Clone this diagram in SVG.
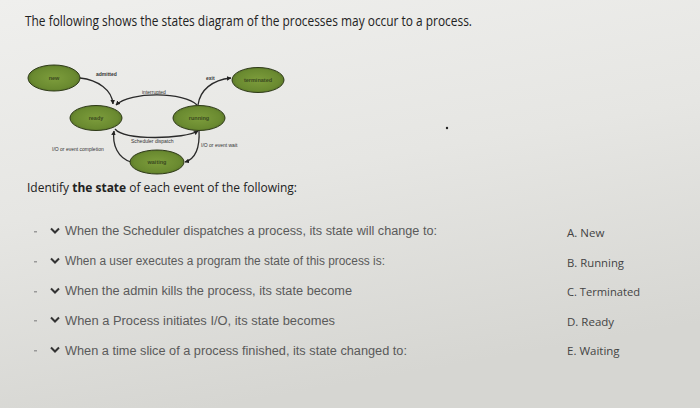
<svg xmlns="http://www.w3.org/2000/svg" width="700" height="408" viewBox="0 0 700 408">
<defs>
<linearGradient id="bg" x1="0" y1="0" x2="0.3" y2="1">
<stop offset="0" stop-color="#efefed"/>
<stop offset="0.5" stop-color="#e6e6e3"/>
<stop offset="1" stop-color="#d6d6d2"/>
</linearGradient>
<radialGradient id="g" cx="0.5" cy="0.5" r="0.6">
<stop offset="0" stop-color="#7d9d3c"/>
<stop offset="0.7" stop-color="#6a8a30"/>
<stop offset="1" stop-color="#4d6622"/>
</radialGradient>
<marker id="ah" viewBox="0 0 10 10" refX="9" refY="5" markerWidth="3.5" markerHeight="3.5" orient="auto">
<path d="M0,0 L10,5 L0,10 z" fill="#222"/>
</marker>
<style>
.st{fill:url(#g);stroke:#2e3a18;stroke-width:1}
.nt{font-family:"Liberation Sans",Arial,sans-serif;font-size:5.5px;fill:#3a4a20;text-anchor:middle;font-weight:bold}
.c{fill:none;stroke:#2a2a2a;stroke-width:1.3;marker-end:url(#ah)}
.el{font-family:"Liberation Sans",Arial,sans-serif;font-size:5px;fill:#333}
.hd{font-family:"Open Sans","Noto Sans",sans-serif;fill:#222}
.q{font-family:"Liberation Sans",Arial,sans-serif;font-size:12.5px;fill:#5a5a5a}
.a{font-family:"Open Sans","Noto Sans",sans-serif;font-size:11.5px;fill:#444}
.ck{fill:none;stroke:#333;stroke-width:2}
.ds{fill:#999}
</style>
</defs>
<rect width="700" height="408" fill="url(#bg)"/>

<text class="hd" x="25" y="26" font-size="14" textLength="447" lengthAdjust="spacingAndGlyphs">The following shows the states diagram of the processes may occur to a process.</text>

<g id="connectors">
<path class="c" d="M80,78 C98,80 112,90 113,104"/>
<path class="c" d="M198,105 C200,90 212,80 231,78"/>
<path class="c" d="M197,105 C185,92 130,91 116,105"/>
<path class="c" d="M115,129 C125,141 185,139 198,131"/>
<path class="c" d="M131,162 C118,158 112,145 114,131"/>
<path class="c" d="M199,130 C200,148 195,159 185,162"/>
<text class="el" x="96" y="76" font-weight="bold">admitted</text>
<text class="el" x="206" y="80" font-weight="bold">exit</text>
<text class="el" x="142" y="94">interrupted</text>
<text class="el" x="131" y="143">Scheduler dispatch</text>
<text class="el" x="52" y="151">I/O  or event completion</text>
<text class="el" x="201" y="147">I/O  or event wait</text>
</g>

<g id="new"><ellipse class="st" cx="54" cy="78" rx="26" ry="13"/><text class="nt" x="54" y="80">new</text></g>
<g id="terminated"><ellipse class="st" cx="258" cy="80" rx="26" ry="12.5"/><text class="nt" x="258" y="82">terminated</text></g>
<g id="ready"><ellipse class="st" cx="96" cy="118" rx="26" ry="12.5"/><text class="nt" x="96" y="120">ready</text></g>
<g id="running"><ellipse class="st" cx="199" cy="118" rx="26" ry="12.5"/><text class="nt" x="199" y="120">running</text></g>
<g id="waiting"><ellipse class="st" cx="157" cy="162" rx="27" ry="12"/><text class="nt" x="157" y="164">waiting</text></g>

<circle cx="447" cy="128" r="1.2" fill="#222"/>

<text class="hd" x="27" y="192" font-size="13" textLength="270" lengthAdjust="spacingAndGlyphs">Identify  <tspan font-weight="bold">the state</tspan> of each event of the following:</text>

<g id="questions">
<rect class="ds" x="34" y="231" width="3" height="1.5"/>
<rect class="ds" x="34" y="261" width="3" height="1.5"/>
<rect class="ds" x="34" y="291" width="3" height="1.5"/>
<rect class="ds" x="34" y="320" width="3" height="1.5"/>
<rect class="ds" x="34" y="350" width="3" height="1.5"/>
<path class="ck" d="M51,228.5 L55,232.5 L59,228.5"/>
<path class="ck" d="M51,258.5 L55,262.5 L59,258.5"/>
<path class="ck" d="M51,288.5 L55,292.5 L59,288.5"/>
<path class="ck" d="M51,317.5 L55,321.5 L59,317.5"/>
<path class="ck" d="M51,347.5 L55,351.5 L59,347.5"/>
<text class="q" x="65" y="235" textLength="372" lengthAdjust="spacingAndGlyphs">When the Scheduler dispatches a process, its state will change to:</text>
<text class="q" x="65" y="265" textLength="320" lengthAdjust="spacingAndGlyphs">When a user executes a program the state of this process is:</text>
<text class="q" x="65" y="295" textLength="287" lengthAdjust="spacingAndGlyphs">When the admin kills the process, its state become</text>
<text class="q" x="65" y="325" textLength="270" lengthAdjust="spacingAndGlyphs">When a Process  initiates I/O, its state becomes</text>
<text class="q" x="65" y="355" textLength="342" lengthAdjust="spacingAndGlyphs">When a time slice of a process finished, its state changed to:</text>
</g>

<g id="answers">
<text class="a" x="567" y="237">A. New</text>
<text class="a" x="567" y="267" textLength="57" lengthAdjust="spacingAndGlyphs">B. Running</text>
<text class="a" x="567" y="296" textLength="73" lengthAdjust="spacingAndGlyphs">C. Terminated</text>
<text class="a" x="567" y="326">D. Ready</text>
<text class="a" x="567" y="355">E. Waiting</text>
</g>
</svg>
